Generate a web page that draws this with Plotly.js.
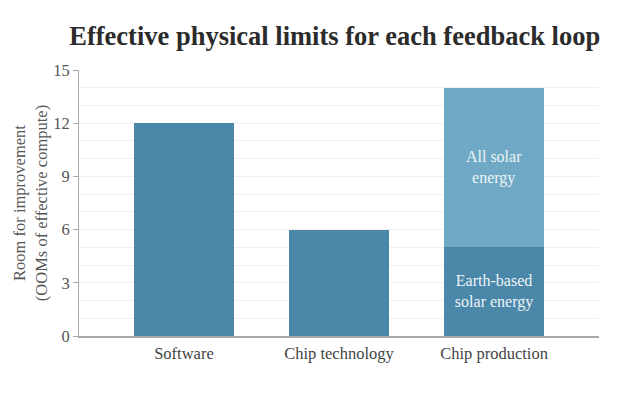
<!DOCTYPE html>
<html>
<head>
<meta charset="utf-8">
<script src="https://cdn.plot.ly/plotly-3.0.1.min.js"></script>
<style>html,body{margin:0;padding:0;background:#fff;}#chart{width:640px;height:401px;}</style>
</head>
<body>
<div id="chart"></div>
<script>
const categories = ["Software", "Chip technology", "Chip production"];
const baseValues = [12, 6, 5];
const baseText = ["", "", "Earth-based<br>solar energy"];
const extraValues = [0, 0, 9];
const extraText = ["", "", "All solar<br>energy"];
const yTicks = [0, 3, 6, 9, 12, 15];

const serif = "Liberation Serif, Times New Roman, serif";

const traces = [
  {
    type: "bar", x: categories, y: baseValues, text: baseText,
    textposition: "inside", insidetextanchor: "middle",
    textfont: {family: serif, size: 16, color: "#eef4f7"},
    marker: {color: "#4a87a9"}, width: 0.65, hoverinfo: "none"
  },
  {
    type: "bar", x: categories, y: extraValues, text: extraText,
    textposition: "inside", insidetextanchor: "middle",
    textfont: {family: serif, size: 16, color: "#eef4f7"},
    marker: {color: "#6fa9c5"}, width: 0.65, hoverinfo: "none"
  }
];

const layout = {
  width: 640, height: 401,
  barmode: "stack",
  showlegend: false,
  paper_bgcolor: "#fff", plot_bgcolor: "#fff",
  margin: {l: 79, r: 41, t: 70, b: 65},
  font: {family: serif, color: "#555"},
  title: {
    text: "<b>Effective physical limits for each feedback loop</b>",
    font: {family: serif, size: 26.5, color: "#2b2b2b"},
    x: 0.523, xanchor: "center", y: 0.91, yanchor: "middle"
  },
  xaxis: {
    type: "category", range: [-0.677, 2.677],
    showline: true, linecolor: "#aaa", linewidth: 1.5,
    ticks: "", ticklabelstandoff: 2, tickfont: {family: serif, size: 16.5, color: "#444"},
    showgrid: false, zeroline: false
  },
  yaxis: {
    range: [0, 15], tickvals: yTicks, ticktext: yTicks.map(String),
    showline: true, linecolor: "#aaa", linewidth: 1,
    ticks: "outside", ticklen: 5, tickcolor: "#aaa",
    tickfont: {family: serif, size: 16.5, color: "#555"},
    showgrid: true, gridcolor: "#f0f0f0", zeroline: false,
    minor: {dtick: 1, showgrid: true, gridcolor: "#f0f0f0"},
    title: {text: "Room for improvement<br>(OOMs of effective compute)", font: {family: serif, size: 16.5, color: "#555"}, standoff: 1}
  }
};

Plotly.newPlot("chart", traces, layout, {displayModeBar: false, staticPlot: true});
</script>
</body>
</html>
